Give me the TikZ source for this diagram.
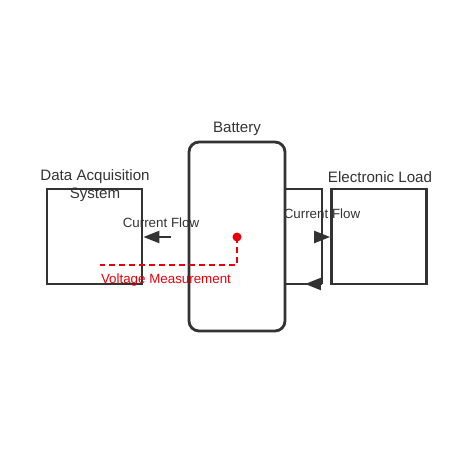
\documentclass[tikz,border=0pt]{standalone}
\usepackage{fontspec}
\setmainfont{Liberation Sans}
\usetikzlibrary{arrows.meta}
\definecolor{ink}{HTML}{333333}
\definecolor{probe}{HTML}{E8000B}
\tikzset{
  unit/.style={draw=ink, line width=1.6pt, minimum width=1.9cm, minimum height=1.9cm, inner sep=0pt},
  cell/.style={draw=ink, line width=1.6pt, rounded corners=0.2cm, minimum width=1.92cm, minimum height=3.78cm, inner sep=0pt},
  title/.style={text=ink, font=\fontsize{8.6}{10.2}\selectfont, align=center, inner sep=0pt},
  flow/.style={text=ink, font=\fontsize{7.6}{9}\selectfont, inner sep=0pt},
  wire/.style={draw=ink, line width=1.3pt},
  head/.style={-{Triangle[length=0.32cm, width=0.24cm]}}
}
\begin{document}
\begin{tikzpicture}[x=0.02cm, y=-0.02cm]
\useasboundingbox (0,0) rectangle (474,474);
\node[cell] (battery) at (237,236.5) {};
\node[unit] (daq) at (94.5,236.5) {};
\node[unit] (load) at (379,236.5) {};
\node[title] (batterytext) at (237,129) {Battery};
\node[title] (daqtext) at (95,186) {Data Acquisition\\System};
\node[title] (loadtext) at (380,177) {Electronic Load};

% current to the acquisition system
\coordinate (leftstart) at (170.5,237);
\draw[wire, head, ink] (leftstart) -- (daq.east |- leftstart);
\node[flow] (leftflow) at (161,223) {Current Flow};

% current loop through the load
\coordinate (plus) at (battery.east |- 0,189);
\coordinate (minus) at (battery.east |- 0,284);
\coordinate (turn) at (322,189);
\coordinate (back) at (322,284);
\coordinate (mid) at (322,237);
\draw[wire] (plus) -- (303,189);
\draw[draw=ink, line width=1pt] (303,189) -- (turn) -- (back);
\draw[wire, head, ink] (mid) -- (load.west |- mid);
\draw[wire] (back) -- (minus);
\draw[wire, head, ink] (back) -- (305,284);
\node[flow] (rightflow) at (322,214) {Current Flow};

% voltage probe
\node[circle, fill=probe, inner sep=0pt, minimum size=0.18cm] (dot) at (237,237) {};
\coordinate (probeend) at (100,265);
\draw[probe, line width=1.1pt, dash pattern=on 3.4pt off 2.3pt] (dot.center) -- (dot.center |- probeend) -- (probeend);
\node[flow, text=probe] (voltext) at (166,280.5) {Voltage Measurement};
\end{tikzpicture}
\end{document}
